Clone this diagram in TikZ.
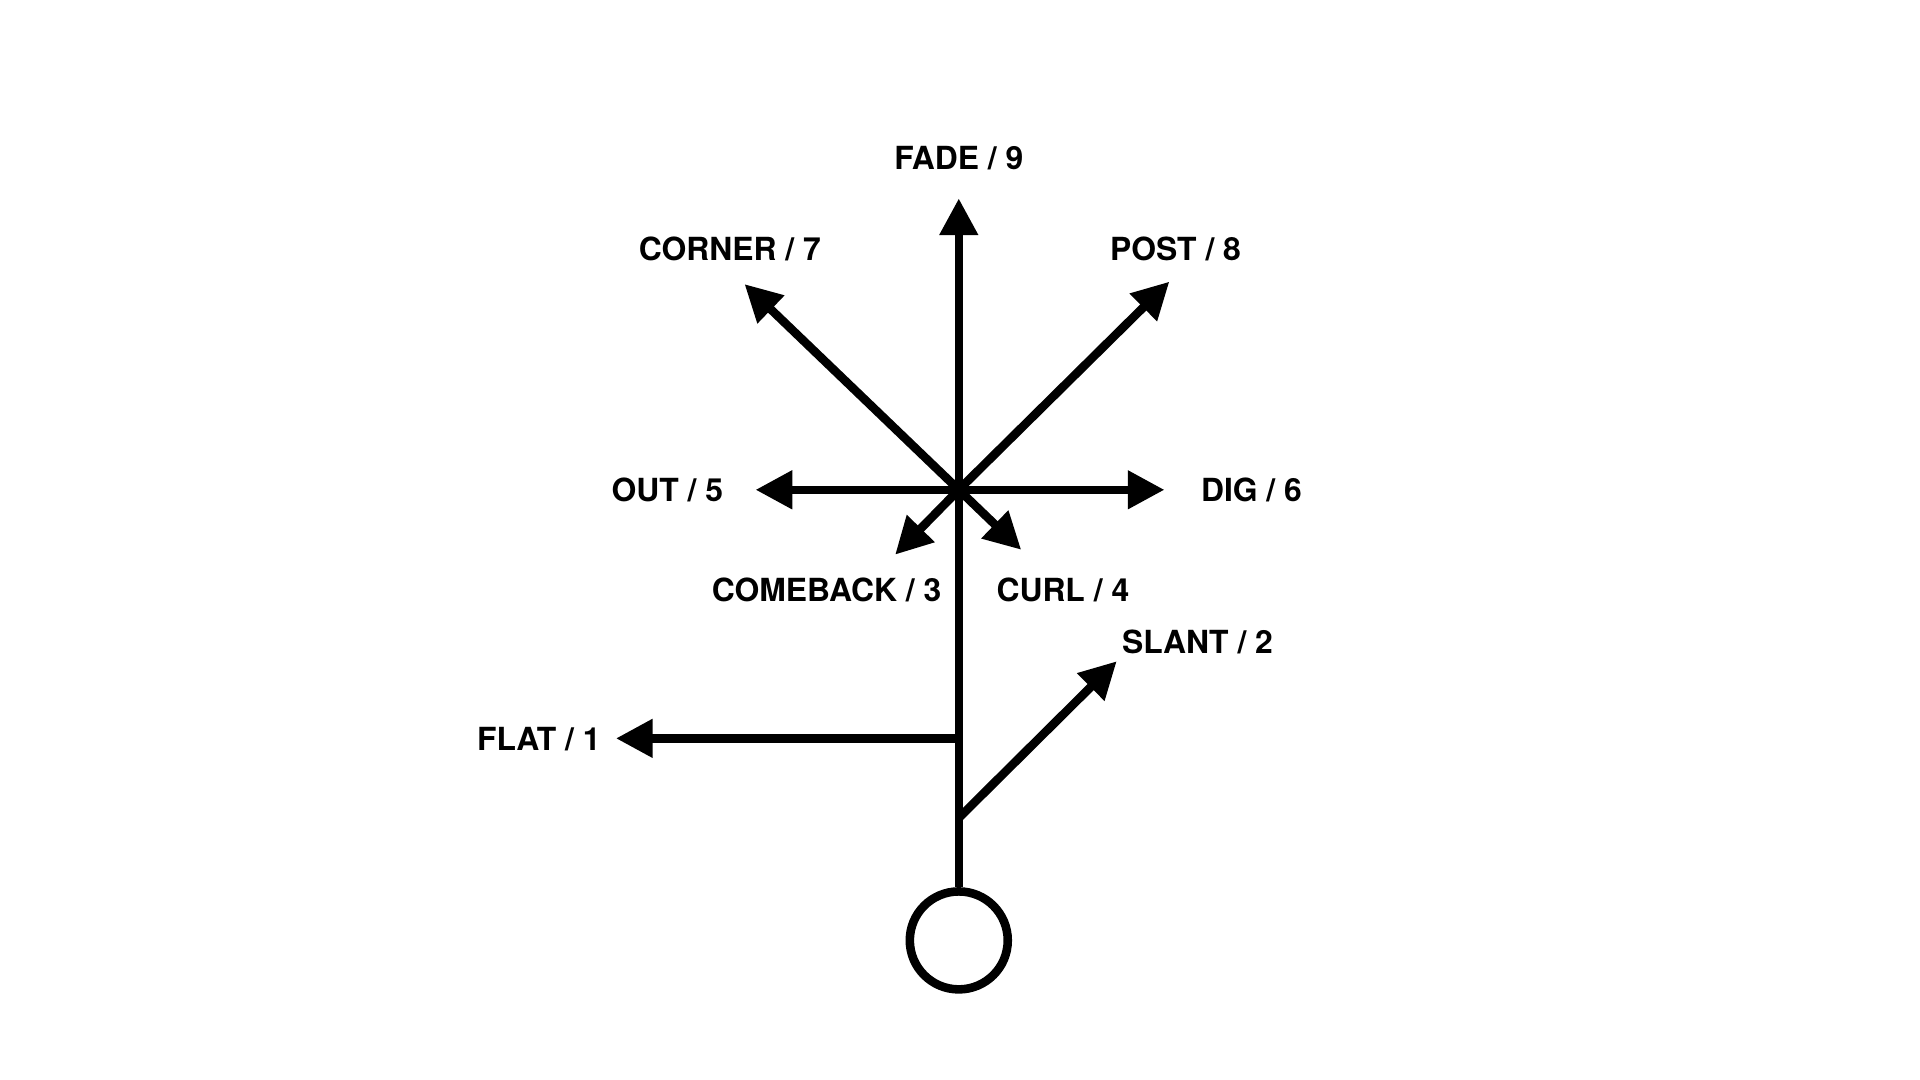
\documentclass[tikz,border=0pt]{standalone}
\usepackage{fontspec}
\setmainfont{TeX Gyre Heros}
\usetikzlibrary{arrows.meta}
\begin{document}
\begin{tikzpicture}[x=1pt, y=-1pt,
    route/.style={line width=7pt, -{Triangle[length=30pt,width=30pt]}},
    stem/.style={line width=7pt},
    lbl/.style={font=\fontsize{26}{28}\selectfont\bfseries, inner sep=0pt}]
    \useasboundingbox (0,0) rectangle (1568,882);
    % ball and stem
    \node[circle, draw, line width=7pt, minimum size=80pt, inner sep=0pt] (ball) at (783,768) {};
    \coordinate (c) at (783,400);
    \coordinate (fb) at (783,603);
    \coordinate (sb) at (783,668);
    \coordinate (t9) at (783,162);
    \coordinate (t1) at (503,603);
    \coordinate (t2) at (912,540);
    \coordinate (t3) at (731,453);
    \coordinate (t4) at (834,449);
    \coordinate (t5) at (617,400);
    \coordinate (t6) at (951,400);
    \coordinate (t7) at (608,232);
    \coordinate (t8) at (955,230);
    \draw[route] (ball.north) -- (t9);
    \draw[route] ([xshift=-3.5pt]fb) -- (t1);
    \draw[route] (sb) -- (t2);
    \draw[route] (c) -- (t3);
    \draw[route] (c) -- (t4);
    \draw[route] (c) -- (t5);
    \draw[route] (c) -- (t6);
    \draw[route] (c) -- (t7);
    \draw[route] (c) -- (t8);
    % labels
    \node[lbl] (l9) at (783,129) {FADE / 9};
    \node[lbl] (l7) at (596,203) {CORNER / 7};
    \node[lbl] (l8) at (960,203) {POST / 8};
    \node[lbl] (l5) at (545,400) {OUT / 5};
    \node[lbl] (l6) at (1022,400) {DIG / 6};
    \node[lbl] (l3) at (675,482) {COMEBACK / 3};
    \node[lbl] (l4) at (868,482) {CURL / 4};
    \node[lbl] (l2) at (978,524) {SLANT / 2};
    \node[lbl] (l1) at (440,604) {FLAT / 1};
\end{tikzpicture}
\end{document}
